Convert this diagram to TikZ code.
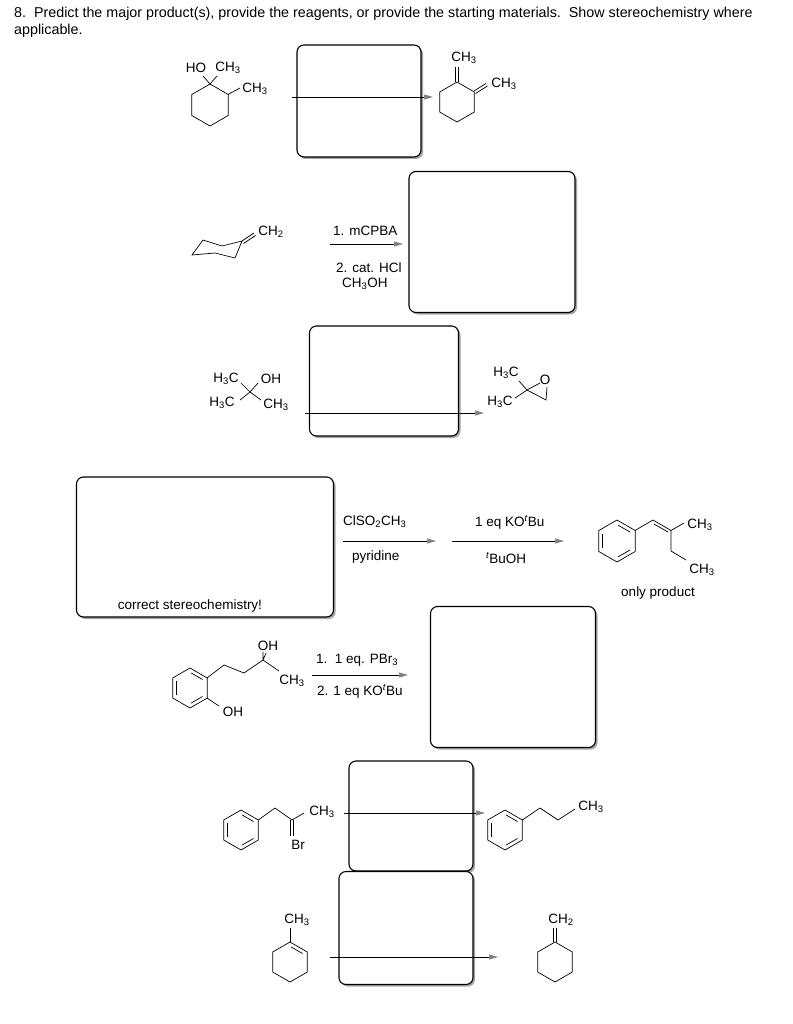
\documentclass[tikz,border=0pt]{standalone}
\usepackage{fontspec}
\setmainfont{Liberation Sans}
\usetikzlibrary{arrows.meta,shadows}
\tikzset{
 ansbox/.style={draw,line width=1.1pt,rounded corners=7pt,fill=white,drop shadow={shadow xshift=2pt,shadow yshift=-2pt,fill=gray!70,opacity=1}},
 rxn/.style={line width=0.7pt,-{Triangle[color=gray,length=9pt,width=5pt]}},
 bd/.style={line width=0.7pt},
 lbl/.style={inner sep=0pt,font=\fontsize{13.5}{15}\selectfont},
 txt/.style={inner sep=0pt,font=\fontsize{14.3}{16}\selectfont,anchor=west},
}
\newcommand\myring[3]{\draw[bd] (#1,#2) ++(270:#3) -- ++(30:#3) -- ++(90:#3) -- ++(150:#3) -- ++(210:#3) -- ++(270:#3) -- cycle;}
\newcommand\innerUR[3]{\draw[bd] ({#1+0.054*#3},{#2-0.754*#3}) -- ({#1+0.626*#3},{#2-0.424*#3});}
\newcommand\innerLR[3]{\draw[bd] ({#1+0.626*#3},{#2+0.424*#3}) -- ({#1+0.054*#3},{#2+0.754*#3});}
\newcommand\innerL[3]{\draw[bd] ({#1-0.68*#3},{#2-0.33*#3}) -- ({#1-0.68*#3},{#2+0.33*#3});}
\newcommand\mybenz[3]{\myring{#1}{#2}{#3}\innerUR{#1}{#2}{#3}\innerLR{#1}{#2}{#3}\innerL{#1}{#2}{#3}}
\newcommand\sub[1]{\textsubscript{#1}}
\begin{document}
\begin{tikzpicture}[x=1pt,y=-1pt]
\useasboundingbox (0,0) rectangle (792,1024);
\fill[white] (0,0) rectangle (792,1024);
% title
\node[txt] (t1) at (14,14) {8.\ \ Predict the major product(s), provide the reagents, or provide the starting materials.\ \ Show stereochemistry where};
\node[txt] (t2) at (14,31) {applicable.};
% boxes
\node[ansbox,minimum width=124pt,minimum height=112pt] (b1) at (359,101) {};
\node[ansbox,minimum width=166pt,minimum height=141pt] (b2) at (492,242) {};
\node[ansbox,minimum width=149pt,minimum height=110pt] (b3) at (384,381) {};
\node[ansbox,minimum width=257pt,minimum height=140pt] (b4) at (205,547) {};
\node[ansbox,minimum width=165pt,minimum height=141pt] (b5) at (513,677) {};
\node[ansbox,minimum width=124pt,minimum height=110pt] (b6) at (411,816) {};
\node[ansbox,minimum width=134pt,minimum height=113pt] (b7) at (406,928) {};
% arrows
\coordinate (a1s) at (292,97); \coordinate (a1e) at (433,97);
\draw[rxn] (a1s) -- (a1e);
\coordinate (a2s) at (330,244); \coordinate (a2e) at (403,244);
\draw[rxn] (a2s) -- (a2e);
\coordinate (a3s) at (305,413); \coordinate (a3e) at (484,413);
\draw[rxn] (a3s) -- (a3e);
\coordinate (a4s) at (343,541); \coordinate (a4e) at (436,541);
\draw[rxn] (a4s) -- (a4e);
\coordinate (a5s) at (452,541); \coordinate (a5e) at (564,541);
\draw[rxn] (a5s) -- (a5e);
\coordinate (a6s) at (312,675); \coordinate (a6e) at (408,675);
\draw[rxn] (a6s) -- (a6e);
\coordinate (a7s) at (344,813); \coordinate (a7e) at (485,813);
\draw[rxn] (a7s) -- (a7e);
\coordinate (a8s) at (330,957); \coordinate (a8e) at (498,957);
\draw[rxn] (a8s) -- (a8e);
% ---- molecule 1
\myring{210}{105}{21}
\draw[bd] (210,84) -- (203,76) (210,84) -- (217,76) (228,94.5) -- (240,88);
\node[lbl] (m1a) at (196,68) {HO};
\node[lbl] (m1b) at (228,68) {CH\sub3};
\node[lbl] (m1c) at (255,89) {CH\sub3};
\myring{457}{102}{20}
\draw[bd] (455.5,82) -- (455.5,67) (458.5,82) -- (458.5,67);
\draw[bd] (474,91) -- (486,83.5) (475.5,93.5) -- (487.5,86);
\node[lbl] (p1a) at (464,58) {CH\sub3};
\node[lbl] (p1b) at (504,84) {CH\sub3};
% ---- molecule 2 (chair)
\draw[bd] (192,255) -- (203,240) -- (222,246) -- (242,241) -- (235,258) -- (215,253) -- cycle;
\draw[bd] (242,241) -- (254,233) (243.5,243.5) -- (255.5,235.5);
\node[lbl] (m2) at (271,232) {CH\sub2};
\node[lbl,anchor=west] (r2a) at (333,231) {1. mCPBA};
\node[lbl,anchor=west] (r2b) at (336,268) {2. cat. HCl};
\node[lbl,anchor=west] (r2c) at (342,284) {CH\sub3OH};
% ---- molecule 3
\draw[bd] (250,392) -- (241,383) (250,392) -- (258,383) (250,392) -- (240,400) (250,392) -- (261,400);
\node[lbl] (m3a) at (226,379) {H\sub3C};
\node[lbl] (m3b) at (271,379) {OH};
\node[lbl] (m3c) at (222,403) {H\sub3C};
\node[lbl] (m3d) at (276,405) {CH\sub3};
\node[lbl] (p3o) at (545,380) {O};
\draw[bd] (527,390) -- (519,381) (527,390) -- (515,398) (527,390) -- (540,383) (547,387) -- (546,400) -- (527,390);
\node[lbl] (p3a) at (506,373) {H\sub3C};
\node[lbl] (p3b) at (500,402) {H\sub3C};
% ---- molecule 4
\node[lbl,anchor=west] (r4a) at (343,522) {ClSO\sub2CH\sub3};
\node[lbl,anchor=west] (r4b) at (352,557) {pyridine};
\node[lbl,anchor=west] (r4c) at (475,522) {1 eq KO\textsuperscript{\itshape t}Bu};
\node[lbl,anchor=west] (r4d) at (486,558) {\textsuperscript{\itshape t}BuOH};
\mybenz{617}{541}{21}
\draw[bd] (635,530.5) -- (653,520) -- (671,530.5) -- (684,523);
\draw[bd] (654,524) -- (668,532);
\draw[bd] (671,530.5) -- (671,551) -- (686,560);
\node[lbl] (p4a) at (700,525) {CH\sub3};
\node[lbl] (p4b) at (702,570) {CH\sub3};
\node[lbl] (p4c) at (658,593) {only product};
\node[lbl] (p4d) at (190,606) {correct stereochemistry!};
% ---- molecule 5
\mybenz{190}{688}{20}
\draw[bd] (207,678) -- (224,665) -- (244,673) -- (263,660) -- (279,671);
\draw[bd] (263,660) -- (263,652) (263,660) -- (266,653);
\draw[bd] (207,698) -- (219,706);
\node[lbl] (m5a) at (268,646) {OH};
\node[lbl] (m5b) at (292,681) {CH\sub3};
\node[lbl] (m5c) at (233,712) {OH};
\node[lbl,anchor=west] (r5a) at (316,660) {1.\ \ 1 eq. PBr\sub3};
\node[lbl,anchor=west] (r5b) at (317,691) {2. 1 eq KO\textsuperscript{\itshape t}Bu};
% ---- molecule 6
\mybenz{241}{830}{20}
\draw[bd] (258.3,820) -- (275,808) -- (292,820) -- (304,813);
\draw[bd] (290.5,820) -- (290.5,836) (293.5,820) -- (293.5,836);
\node[lbl] (m6a) at (322,812) {CH\sub3};
\node[lbl] (m6b) at (298,845) {Br};
\mybenz{505}{830}{20}
\draw[bd] (522.3,820) -- (540,808) -- (558,820) -- (575,809);
\node[lbl] (p6) at (591,807) {CH\sub3};
% ---- molecule 7
\myring{290}{962}{20}
\draw[bd] (290,942) -- (290,928);
\innerUR{290}{962}{20}
\node[lbl] (m7) at (297,920) {CH\sub3};
\myring{555}{962}{20}
\draw[bd] (553.5,942) -- (553.5,928) (556.5,942) -- (556.5,928);
\node[lbl] (p7) at (561,920) {CH\sub2};
\end{tikzpicture}
\end{document}
